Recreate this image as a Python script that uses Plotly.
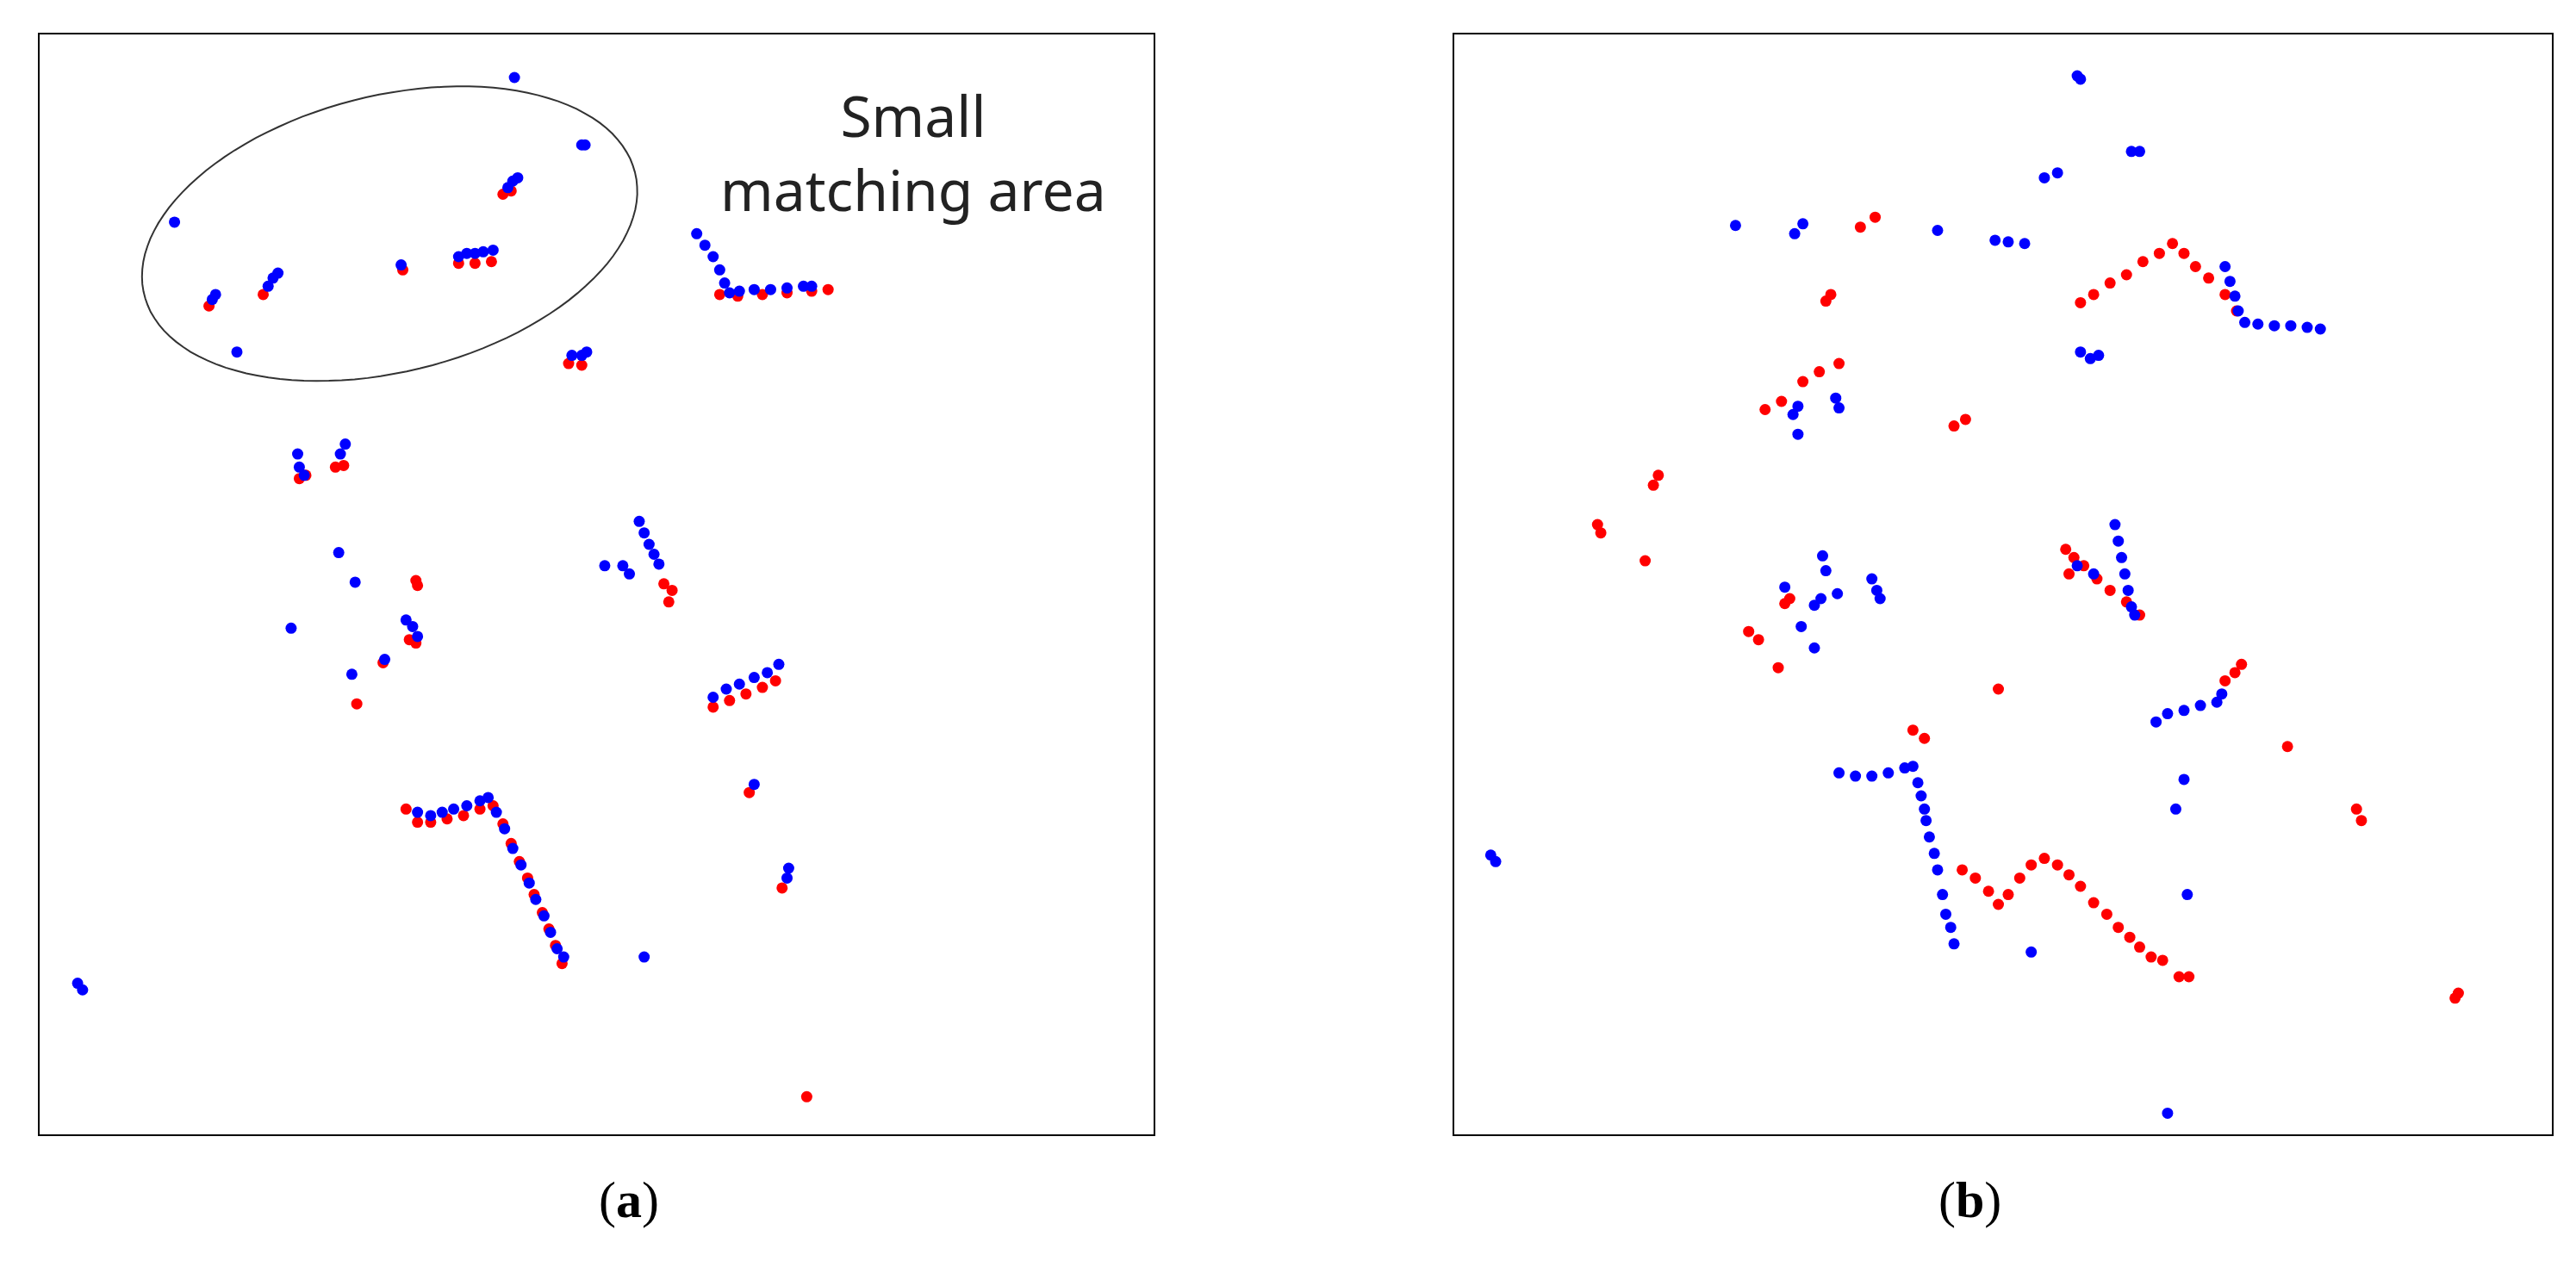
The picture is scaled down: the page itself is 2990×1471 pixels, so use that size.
import numpy as np
import plotly.graph_objects as go

# Panel (a) scan points
a_blue_x = [309,350,352,305,308,311,102,125,127,159,162,165,240,275,280,285,290,296,
            420,425,430,434,437,440,446,455,465,475,485,490,140,344,350,353,177,178,181,203,206,
            202,364,375,379,385,388,391,394,397,212,173,243,247,250,210,230,
            430,438,446,455,463,470,455,250,258,265,272,280,288,293,298,303,308,313,318,322,327,331,335,339,
            476,475,388,43,46]
a_blue_y = [43,84,84,110,106,104,131,178,175,170,165,162,157,152,150,150,149,148,
            138,145,152,160,168,174,173,172,172,171,170,170,210,212,212,210,272,280,285,272,266,
            332,340,340,345,313,320,327,333,339,350,378,373,377,383,406,397,
            420,415,412,408,405,400,473,490,492,490,488,486,483,481,490,500,512,522,533,543,553,563,573,578,
            524,530,578,594,598]
a_red_x = [307,302,123,156,241,275,285,295,434,445,460,475,490,500,342,350,178,182,200,205,
           249,250,245,249,405,403,400,213,229,430,440,450,460,468,452,
           243,250,258,268,278,288,296,302,307,312,317,321,326,330,334,338,472,487]
a_red_y = [112,114,182,175,160,156,156,155,175,176,175,174,173,172,217,218,287,285,280,279,
           349,352,385,387,355,362,351,424,399,426,422,418,414,410,478,
           488,496,496,494,492,488,486,497,509,520,530,540,551,561,571,582,536,663]

# Panel (b) scan points
b_blue_x = [1260,1262,1240,1248,1293,1298,1052,1088,1093,1175,1210,1218,1228,
            1350,1353,1356,1358,1362,1370,1380,1390,1400,1408,1262,1268,1273,1090,1087,1113,1115,1090,
            1105,1107,1114,1100,1104,1082,1092,1100,1135,1138,1140,
            1283,1285,1287,1289,1291,1293,1295,1260,1270,1308,1315,1325,1335,1345,1348,
            1115,1125,1135,1145,1155,1160,1163,1165,1167,1168,1170,1173,1175,1178,1180,1183,1185,
            1325,1320,1327,1232,903,906,1315]
b_blue_y = [42,44,104,101,88,88,133,138,132,136,142,143,144,
            158,167,176,185,192,193,194,194,195,196,210,214,212,243,248,238,244,260,
            334,343,357,364,360,353,377,390,348,355,360,
            315,325,335,345,355,365,370,340,345,435,430,428,425,423,418,
            466,468,468,466,463,462,472,480,488,495,505,515,525,540,552,560,570,
            470,488,540,575,516,520,673]
b_red_x = [1128,1137,1107,1110,1262,1270,1280,1290,1300,1310,1318,1325,1332,1340,1350,1357,
           1070,1080,1093,1103,1115,1185,1192,1002,1005,968,970,997,
           1253,1258,1264,1272,1280,1290,1298,1255,1060,1066,1082,1085,1078,1212,1350,1356,1360,
           1160,1167,1388,1190,1198,1206,1212,1218,1225,1232,1240,1248,1255,1262,1270,1278,1285,
           1292,1298,1305,1312,1322,1328,1430,1433,1490,1492]
b_red_y = [134,128,179,175,180,175,168,163,155,150,144,150,158,165,175,185,
           245,240,228,222,217,255,251,291,285,315,320,337,
           330,335,340,348,355,362,370,345,380,385,363,360,402,415,410,405,400,
           440,445,450,525,530,538,546,540,530,522,518,522,528,535,545,552,560,
           566,572,578,580,590,590,488,495,603,600]

RED = "#ff0000"
BLUE = "#0000ff"
MS = 13

fig = go.Figure()
for xs, ys, c, ax in [(a_red_x, a_red_y, RED, ("x", "y")), (a_blue_x, a_blue_y, BLUE, ("x", "y")),
                      (b_red_x, b_red_y, RED, ("x2", "y2")), (b_blue_x, b_blue_y, BLUE, ("x2", "y2"))]:
    fig.add_trace(go.Scatter(x=xs, y=ys, mode="markers", xaxis=ax[0], yaxis=ax[1],
                             marker=dict(color=c, size=MS, line=dict(width=0)),
                             showlegend=False, hoverinfo="skip"))

ax_style = dict(showgrid=False, zeroline=False, showticklabels=False, ticks="",
                showline=True, linecolor="black", linewidth=2, mirror=True)
fig.update_layout(
    width=2990, height=1471, plot_bgcolor="white", paper_bgcolor="white",
    margin=dict(l=0, r=0, t=0, b=0),
    xaxis=dict(domain=[0.0128, 0.445], range=[20, 698], **ax_style),
    yaxis=dict(domain=[0.110, 0.978], range=[686, 17], **ax_style),
    xaxis2=dict(domain=[0.562, 0.988], range=[881, 1549], anchor="y2", **ax_style),
    yaxis2=dict(domain=[0.110, 0.978], range=[686, 17], anchor="x2", **ax_style),
)

# ellipse
t = np.linspace(0, 2*np.pi, 120)
cx, cy, rx, ry, ang = 233, 138, 154, 84, np.deg2rad(-14)
ex = cx + rx*np.cos(t)*np.cos(ang) - ry*np.sin(t)*np.sin(ang)
ey = cy + rx*np.cos(t)*np.sin(ang) + ry*np.sin(t)*np.cos(ang)
path = "M " + " L ".join(f"{x:.1f},{y:.1f}" for x, y in zip(ex, ey)) + " Z"
fig.add_shape(type="path", path=path, xref="x", yref="y", line=dict(color="#333333", width=2))

fig.add_annotation(x=552, y=88, xref="x", yref="y", text="Small<br>matching area", showarrow=False,
                   font=dict(family="Noto Sans", size=66, color="#222222"), align="center")
fig.add_annotation(x=0.229, y=0.035, xref="paper", yref="paper", text="(<b>a</b>)", showarrow=False,
                   font=dict(family="Liberation Serif", size=60, color="black"))
fig.add_annotation(x=0.775, y=0.035, xref="paper", yref="paper", text="(<b>b</b>)", showarrow=False,
                   font=dict(family="Liberation Serif", size=60, color="black"))

fig.write_html("out.html")
